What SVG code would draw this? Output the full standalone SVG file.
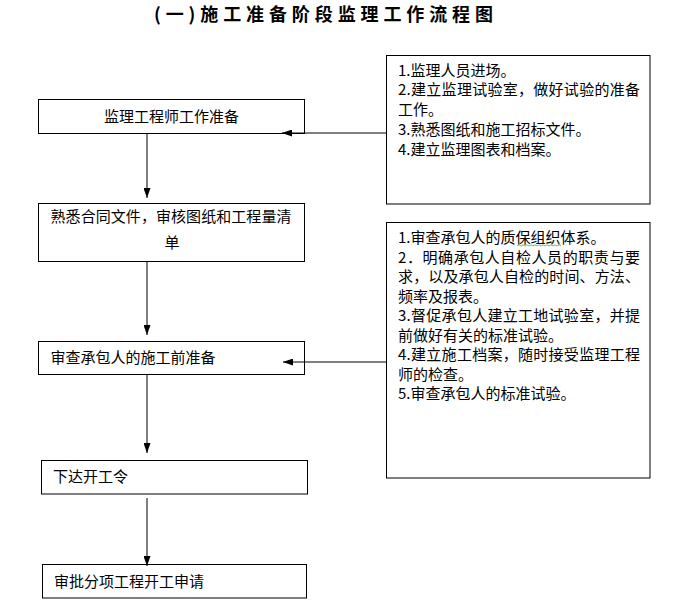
<svg xmlns="http://www.w3.org/2000/svg" width="677" height="602" viewBox="0 0 677 602">
<defs>
<style>
.box{fill:#fff;stroke:#000;stroke-width:1}
.t{font-family:"Noto Sans CJK SC","Liberation Sans",sans-serif;font-size:15px;fill:#000}
.title{font-family:"Noto Sans CJK SC","Liberation Serif",serif;font-size:18px;font-weight:bold;fill:#000}
.con{fill:none;stroke:#000;stroke-width:1}
</style>
<marker id="ah" markerUnits="userSpaceOnUse" markerWidth="10" markerHeight="7" refX="10" refY="3.5" orient="auto">
<path d="M0,0 L10,3.5 L0,7 z" fill="#000"/>
</marker>
</defs>
<rect width="677" height="602" fill="#fff"/>
<text class="title" x="154" y="20.5" textLength="339" lengthAdjust="spacing">(一)施工准备阶段监理工作流程图</text>

<g id="node-prep">
<rect class="box" x="38.5" y="99.5" width="266" height="34"/>
<text class="t" x="171.5" y="122" text-anchor="middle">监理工程师工作准备</text>
</g>
<g id="node-contract">
<rect class="box" x="38.5" y="203.5" width="266" height="58"/>
<text class="t" x="50.5" y="221.5" textLength="241" lengthAdjust="spacing">熟悉合同文件，审核图纸和工程量清</text>
<text class="t" x="172" y="248" text-anchor="middle">单</text>
</g>
<g id="node-review">
<rect class="box" x="38.5" y="341.5" width="266" height="33"/>
<text class="t" x="50.5" y="363">审查承包人的施工前准备</text>
</g>
<g id="node-order">
<rect class="box" x="41.5" y="460.5" width="266" height="33.5"/>
<text class="t" x="53" y="481.5">下达开工令</text>
</g>
<g id="node-approve">
<rect class="box" x="42.5" y="564.5" width="264" height="33.5"/>
<text class="t" x="54" y="586.5">审批分项工程开工申请</text>
</g>

<g id="note-1">
<rect class="box" x="386.5" y="55.5" width="263.5" height="148.5"/>
<text class="t" x="398" y="75.5">1.监理人员进场。</text>
<text class="t" x="398" y="95.3" textLength="242" lengthAdjust="spacing">2.建立监理试验室，做好试验的准备</text>
<text class="t" x="398" y="115">工作。</text>
<text class="t" x="398" y="134.8">3.熟悉图纸和施工招标文件。</text>
<text class="t" x="398" y="154.5">4.建立监理图表和档案。</text>
</g>
<g id="note-2">
<rect class="box" x="386.5" y="222.5" width="263.5" height="255.5"/>
<text class="t" x="398" y="243">1.审查承包人的质保组织体系。</text>
<path d="M517,246 l2,-1.2 2,1.2 2,-1.2 2,1.2 2,-1.2 2,1.2 2,-1.2 2,1.2 2,-1.2 2,1.2 2,-1.2 2,1.2 2,-1.2 2,1.2 2,-1.2 2,1.2 2,-1.2 2,1.2 2,-1.2 2,1.2 2,-1.2 2,1.2" fill="none" stroke="#3bb33b" stroke-width="0.8"/>
<text class="t" x="398" y="262.5" textLength="242" lengthAdjust="spacing">2．明确承包人自检人员的职责与要</text>
<text class="t" x="398" y="282" textLength="242" lengthAdjust="spacing">求，以及承包人自检的时间、方法、</text>
<text class="t" x="398" y="301.5">频率及报表。</text>
<text class="t" x="398" y="321" textLength="242" lengthAdjust="spacing">3.督促承包人建立工地试验室，并提</text>
<text class="t" x="398" y="340.5">前做好有关的标准试验。</text>
<text class="t" x="398" y="360" textLength="242" lengthAdjust="spacing">4.建立施工档案，随时接受监理工程</text>
<text class="t" x="398" y="379.5">师的检查。</text>
<text class="t" x="398" y="399">5.审查承包人的标准试验。</text>
</g>

<g id="connectors">
<path class="con" d="M147,134 V198" marker-end="url(#ah)"/>
<path class="con" d="M147,261 V335" marker-end="url(#ah)"/>
<path class="con" d="M147,375 V453" marker-end="url(#ah)"/>
<path class="con" d="M147,498 V566" marker-end="url(#ah)"/>
<path class="con" d="M387,133 H282" marker-end="url(#ah)"/>
<path class="con" d="M387,362 H283" marker-end="url(#ah)"/>
</g>
</svg>
